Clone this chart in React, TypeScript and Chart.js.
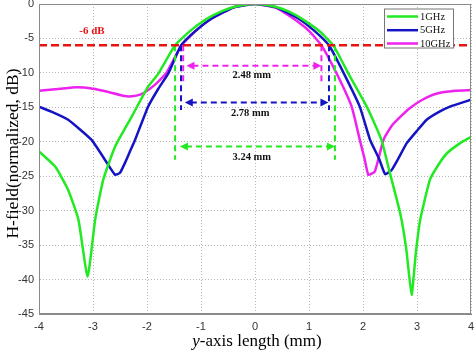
import React, { useEffect, useRef } from "react";
import { Chart, registerables } from "chart.js";

Chart.register(...registerables);

// ---- data ----
const x1GHz = [-4, -3.7, -3.46, -3.27, -3.1, -2.96, -2.81, -2.59, -2.28, -1.98, -1.79, -1.48, -1.2, -0.9, -0.6, -0.3, 0, 0.3, 0.6, 0.9, 1.2, 1.45, 1.73, 2.07, 2.34, 2.5, 2.69, 2.8, 2.9, 2.98, 3.06, 3.24, 3.4, 3.55, 3.8, 4];
const y1GHz = [-21.4, -23.6, -27, -31.3, -39.6, -31.3, -25.5, -20.7, -16.3, -12.0, -10.1, -6.0, -3.9, -2.2, -1.0, -0.25, 0, -0.25, -1.0, -2.3, -4.0, -6.0, -10.1, -14.9, -19.7, -24.6, -30.4, -35.5, -42.2, -36, -31.3, -25.5, -23.3, -21.7, -20.2, -19.3];

const x5GHz = [-4, -3.75, -3.46, -3.03, -2.78, -2.59, -2.5, -2.41, -2.31, -2.22, -1.98, -1.79, -1.6, -1.37, -1.1, -0.8, -0.4, 0, 0.4, 0.8, 1.1, 1.37, 1.64, 1.94, 2.13, 2.3, 2.41, 2.53, 2.65, 2.81, 3.0, 3.18, 3.4, 3.61, 4];
const y5GHz = [-14.9, -15.7, -16.8, -19.7, -22.6, -24.8, -24.5, -23.1, -21.3, -19.7, -14.9, -12.3, -10.0, -6.0, -3.9, -2.1, -0.5, 0, -0.5, -2.1, -3.9, -6.0, -10.0, -14.9, -19.7, -22.5, -24.7, -24.1, -22.5, -20.2, -18.4, -16.8, -15.7, -14.9, -13.9];

const x10GHz = [-4, -3.6, -3.3, -3.0, -2.75, -2.38, -2.2, -2.07, -1.85, -1.64, -1.36, -1.1, -0.8, -0.4, 0, 0.4, 0.8, 1.0, 1.23, 1.51, 1.79, 1.94, 2.03, 2.1, 2.22, 2.38, 2.53, 2.69, 2.87, 3.1, 3.37, 3.7, 4];
const y10GHz = [-12.6, -12.3, -12.1, -12.3, -12.7, -13.4, -13.3, -12.96, -11.7, -10.0, -6.0, -3.9, -2.1, -0.5, 0, -0.6, -2.6, -3.9, -6.0, -10.06, -14.9, -19.7, -22.5, -24.8, -24.3, -19.7, -17.7, -16.4, -15.1, -13.9, -13.0, -12.6, -12.5];

const seriesNames = ["1GHz", "5GHz", "10GHz"];
const seriesColors = ["#22ea22", "#1414c4", "#ee22ee"];

// reference level and width markers
const refLevel = -6;
const refLabel = "-6 dB";
const refLabelPos = [-3.02, -3.9];
const widthLabels = ["3.24 mm", "2.78 mm", "2.48 mm"];
const markerLeftX = [-1.48, -1.37, -1.33];
const markerRightX = [1.48, 1.37, 1.23];
const markerBottomY = [-22.6, -15.4, -11.3];
const arrowY = [-20.7, -14.3, -8.95];
const arrowLeftX = [-1.39, -1.3, -1.27];
const arrowRightX = [1.48, 1.36, 1.23];
const labelX = [-0.06, -0.09, -0.06];
const labelY = [-22.2, -15.9, -10.3];

const xMin = -4, xMax = 4, xStep = 1;
const yMin = -45, yMax = 0, yStep = 5;

const yTitle = "H-field(normalized, dB)";
const xTitleItalic = "y";
const xTitleRest = "-axis length (mm)";

const serif = "'Liberation Serif', 'Times New Roman', serif";
const sans = "'Liberation Sans', Arial, sans-serif";

function pts(xs: number[], ys: number[]) {
  return xs.map((x, i) => ({ x, y: ys[i] }));
}

const overlayPlugin = {
  id: "overlay",
  afterDatasetsDraw(chart: any) {
    const { ctx, chartArea: ca, scales } = chart;
    const sx = scales.x, sy = scales.y;
    const px = (v: number) => sx.getPixelForValue(v);
    const py = (v: number) => sy.getPixelForValue(v);
    ctx.save();
    // width markers
    for (let i = 0; i < widthLabels.length; i++) {
      const c = seriesColors[i];
      ctx.strokeStyle = c;
      ctx.fillStyle = c;
      ctx.lineWidth = 2;
      ctx.setLineDash([6, 4]);
      for (const mx of [markerLeftX[i], markerRightX[i]]) {
        ctx.beginPath();
        ctx.moveTo(px(mx), py(refLevel));
        ctx.lineTo(px(mx), py(markerBottomY[i]));
        ctx.stroke();
      }
      const ay = py(arrowY[i]);
      const ax1 = px(arrowLeftX[i]);
      const ax2 = px(arrowRightX[i]);
      ctx.beginPath();
      ctx.moveTo(ax1 + 6, ay);
      ctx.lineTo(ax2 - 6, ay);
      ctx.stroke();
      ctx.setLineDash([]);
      // arrow heads
      ctx.beginPath();
      ctx.moveTo(ax1, ay);
      ctx.lineTo(ax1 + 8, ay - 4);
      ctx.lineTo(ax1 + 8, ay + 4);
      ctx.closePath();
      ctx.fill();
      ctx.beginPath();
      ctx.moveTo(ax2, ay);
      ctx.lineTo(ax2 - 8, ay - 4);
      ctx.lineTo(ax2 - 8, ay + 4);
      ctx.closePath();
      ctx.fill();
      // label
      ctx.fillStyle = "#111";
      ctx.font = `bold 10.5px ${serif}`;
      ctx.textAlign = "center";
      ctx.textBaseline = "middle";
      ctx.fillText(widthLabels[i], px(labelX[i]), py(labelY[i]));
    }
    // -6 dB line
    ctx.strokeStyle = "#e81414";
    ctx.lineWidth = 2.5;
    ctx.setLineDash([8, 4]);
    ctx.beginPath();
    ctx.moveTo(ca.left, py(refLevel));
    ctx.lineTo(ca.right, py(refLevel));
    ctx.stroke();
    ctx.setLineDash([]);
    ctx.fillStyle = "#e81414";
    ctx.font = `bold 11px ${serif}`;
    ctx.textAlign = "center";
    ctx.textBaseline = "middle";
    ctx.fillText(refLabel, px(refLabelPos[0]), py(refLabelPos[1]));
    ctx.restore();
  },
  afterDraw(chart: any) {
    const { ctx, chartArea: ca } = chart;
    ctx.save();
    // box
    ctx.strokeStyle = "#8a8a8a";
    ctx.lineWidth = 1;
    ctx.strokeRect(ca.left + 0.5, ca.top + 0.5, ca.right - ca.left - 1, ca.bottom - ca.top - 1);
    // legend
    const lx = ca.right - 87, ly = ca.top + 4.5, lw = 69, lh = 39;
    ctx.fillStyle = "#fff";
    ctx.fillRect(lx, ly, lw, lh);
    ctx.strokeStyle = "#777";
    ctx.strokeRect(lx + 0.5, ly + 0.5, lw, lh);
    const rows = [8, 21.7, 35];
    ctx.font = `10.5px ${serif}`;
    ctx.textAlign = "left";
    ctx.textBaseline = "middle";
    for (let i = 0; i < seriesNames.length; i++) {
      ctx.strokeStyle = seriesColors[i];
      ctx.lineWidth = 2.5;
      ctx.beginPath();
      ctx.moveTo(lx + 3, ly + rows[i]);
      ctx.lineTo(lx + 34, ly + rows[i]);
      ctx.stroke();
      ctx.fillStyle = "#111";
      ctx.fillText(seriesNames[i], lx + 36, ly + rows[i] + 0.5);
    }
    // axis titles
    ctx.fillStyle = "#000";
    ctx.font = `17.5px ${serif}`;
    ctx.save();
    ctx.translate(18, 153.5);
    ctx.rotate(-Math.PI / 2);
    ctx.textAlign = "center";
    ctx.textBaseline = "alphabetic";
    ctx.fillText(yTitle, 0, 0);
    ctx.restore();
    ctx.font = `italic 17px ${serif}`;
    const w1 = ctx.measureText(xTitleItalic).width;
    ctx.font = `17px ${serif}`;
    const w2 = ctx.measureText(xTitleRest).width;
    const cx = (ca.left + ca.right) / 2 + 2;
    const start = cx - (w1 + w2) / 2;
    ctx.textAlign = "left";
    ctx.textBaseline = "alphabetic";
    ctx.font = `italic 17px ${serif}`;
    ctx.fillText(xTitleItalic, start, 346);
    ctx.font = `17px ${serif}`;
    ctx.fillText(xTitleRest, start + w1, 346);
    ctx.restore();
  },
};

export default function App() {
  const ref = useRef<HTMLCanvasElement | null>(null);
  useEffect(() => {
    if (!ref.current) return;
    const data = [pts(x1GHz, y1GHz), pts(x5GHz, y5GHz), pts(x10GHz, y10GHz)];
    const chart = new Chart(ref.current, {
      type: "line",
      data: {
        datasets: seriesNames.map((n, i) => ({
          label: n,
          data: data[i],
          borderColor: seriesColors[i],
          backgroundColor: seriesColors[i],
          borderWidth: 2.5,
          pointRadius: 0,
          tension: 0.15,
          fill: false,
        })),
      },
      options: {
        animation: false,
        responsive: false,
        devicePixelRatio: 1,
        layout: { padding: { top: 4, right: 3, left: 0, bottom: 0 } },
        plugins: { legend: { display: false }, tooltip: { enabled: false } },
        scales: {
          x: {
            type: "linear",
            min: xMin,
            max: xMax,
            ticks: { stepSize: xStep, color: "#333", font: { family: sans, size: 11 }, padding: 6, maxRotation: 0 },
            grid: { color: "#b5b5b5", drawTicks: false, lineWidth: 1 },
            border: { display: true, color: "#8a8a8a", dash: [1, 2] },
            afterFit: (s: any) => { s.height = 39; s.paddingLeft = 0; s.paddingRight = 0; },
          },
          y: {
            type: "linear",
            min: yMin,
            max: yMax,
            ticks: { stepSize: yStep, color: "#333", font: { family: sans, size: 11 }, padding: 5 },
            grid: { color: "#b5b5b5", drawTicks: false, lineWidth: 1 },
            border: { display: true, color: "#8a8a8a", dash: [1, 2] },
            afterFit: (s: any) => { s.width = 39; s.paddingTop = 0; s.paddingBottom = 0; },
          },
        },
      },
      plugins: [overlayPlugin],
    });
    return () => chart.destroy();
  }, []);
  return (
    <div style={{ position: "absolute", left: 0, top: 0, width: 474, height: 353, background: "#fff" }}>
      <canvas ref={ref} width={474} height={353} />
    </div>
  );
}
